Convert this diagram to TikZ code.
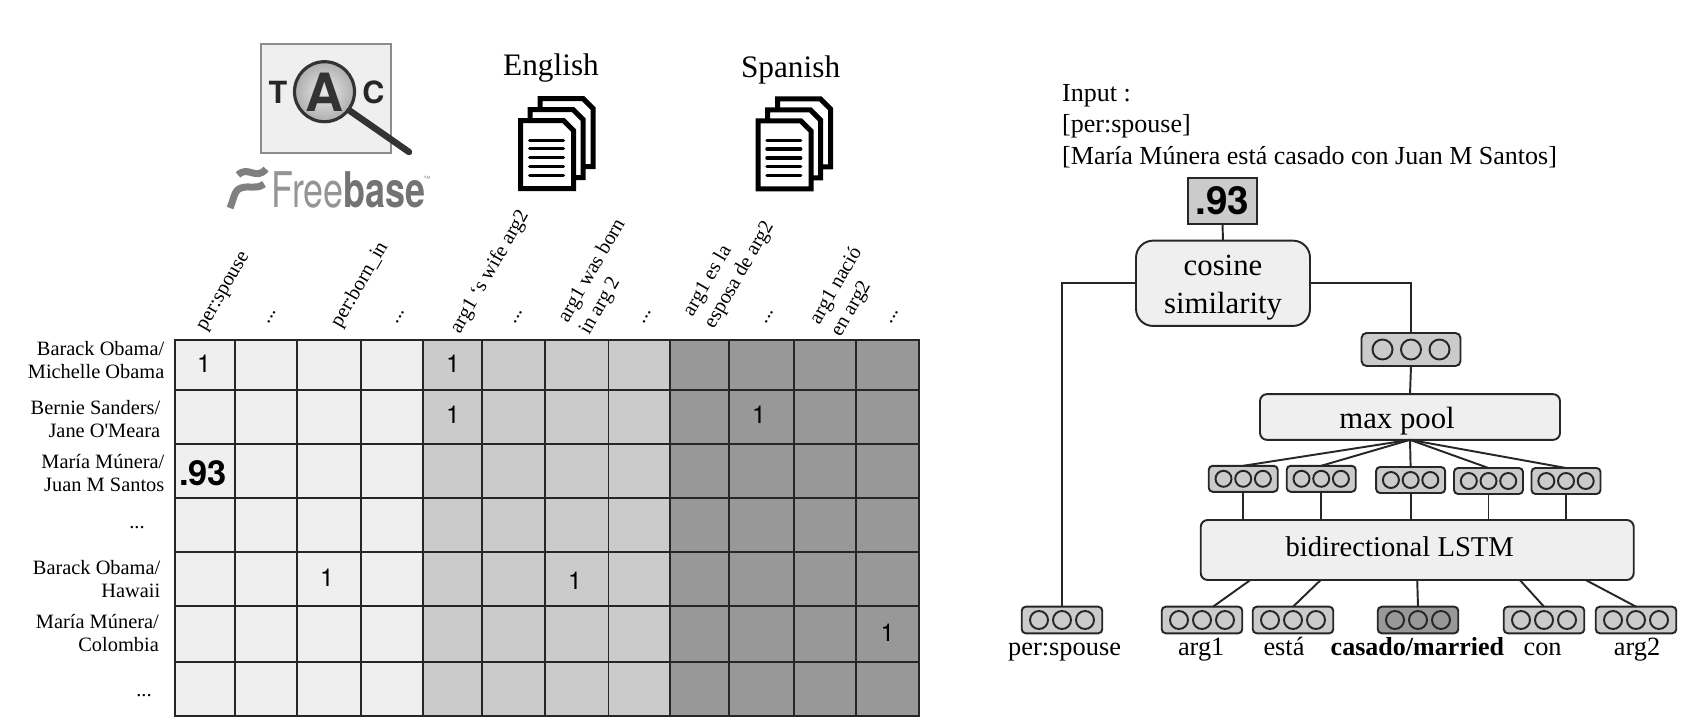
\documentclass[tikz,border=0pt]{standalone}
\usepackage{fontspec}
\setmainfont{Liberation Serif}
\newfontfamily\plainserif{Liberation Serif}
\newfontfamily\arialfont{TeX Gyre Heros}
\definecolor{celllight}{HTML}{EFEFEF}
\definecolor{cellmid}{HTML}{CBCBCB}
\definecolor{celldark}{HTML}{989898}
\newcommand{\fontat}[2]{\fontsize{#1}{#2}\selectfont}
\tikzset{
    cell/.style={draw=black!85, line width=0.5pt},
    rowlabel/.style={font=\fontat{5.8}{6.8}, align=right, anchor=east, inner sep=0pt},
    collabel/.style={font=\fontat{5.8}{7}, align=left, rotate=60, inner sep=0pt},
    cellnum/.style={font=\arialfont\fontat{7}{7}, inner sep=0pt},
    bignum/.style={font=\arialfont\bfseries\fontat{9.8}{10}, inner sep=0pt},
    block/.style={draw=black!85, fill=celllight, line width=0.55pt, rounded corners=0.07cm, inner sep=0pt, outer sep=0pt},
    vecbox/.style={draw=black!85, fill=cellmid, line width=0.55pt, rounded corners=0.04cm, inner sep=0pt, outer sep=0pt},
    veclabel/.style={font=\fontat{7.5}{8}, inner sep=0pt, anchor=base},
    wire/.style={line width=0.55pt, black!85},
    docstack/.pic={
        \foreach \dx/\dy in {0.195/0.22, 0.095/0.11, 0/0}
            \draw[line width=0.05cm, fill=white, miter limit=2] (\dx,\dy) -- ++(0.43,0) -- ++(0.10,-0.10) -- ++(0,-0.58) -- ++(-0.53,0) -- cycle;
        \foreach \ly in {-0.196, -0.28, -0.37, -0.456, -0.546}
            \draw[line width=0.035cm, line cap=round] (0.09,\ly) -- (0.427,\ly);
    }
}

\begin{document}
\begin{tikzpicture}
    \useasboundingbox (0,0) rectangle (16.89,7.27);

    % Matrix cells
    \foreach \xa/\xb/\shade in {1.75/2.35/celllight, 2.35/2.97/celllight, 2.97/3.61/celllight, 3.61/4.23/celllight,
        4.23/4.82/cellmid, 4.82/5.45/cellmid, 5.45/6.085/cellmid, 6.085/6.70/cellmid,
        6.70/7.29/celldark, 7.29/7.94/celldark, 7.94/8.56/celldark, 8.56/9.19/celldark}
        \foreach \ya/\yb in {3.87/3.37, 3.37/2.83, 2.83/2.29, 2.29/1.75, 1.75/1.21, 1.21/0.65, 0.65/0.11}
            \draw[cell, fill=\shade] (\xa,\ya) rectangle (\xb,\yb);

    % Matrix entries
    \foreach \nm/\cx/\cy in {a/2.04/3.63, b/4.53/3.63, c/4.53/3.12, d/7.59/3.12, e/3.27/1.49, f/5.75/1.46, g/8.875/0.94}
        \node[cellnum] (one\nm) at (\cx,\cy) {1};
    \node[bignum] (scoreleft) at (2.03,2.54) {.93};

    % Row labels
    \node[rowlabel] (rowa) at (1.65,3.67) {Barack Obama/\\Michelle Obama};
    \node[rowlabel] (rowb) at (1.61,3.08) {Bernie Sanders/\\Jane O{\plainserif '}Meara};
    \node[rowlabel] (rowc) at (1.65,2.54) {María Múnera/\\Juan M Santos};
    \node[rowlabel, anchor=center] (rowd) at (1.37,1.99) {...};
    \node[rowlabel] (rowe) at (1.61,1.48) {Barack Obama/\\Hawaii};
    \node[rowlabel] (rowf) at (1.595,0.94) {María Múnera/\\Colombia};
    \node[rowlabel, anchor=center] (rowg) at (1.44,0.315) {...};

    % Column labels
    \node[collabel] (cola) at (2.25,4.35) {per:spouse};
    \node[collabel] (colb) at (3.60,4.42) {per:born\_in};
    \node[collabel] (colc) at (4.90,4.55) {arg1 ‘s wife arg2};
    \node[collabel] (cold) at (6.03,4.50) {arg1 was born\\in arg 2};
    \node[collabel] (cole) at (7.29,4.58) {arg1 es la\\esposa de arg2};
    \node[collabel] (colf) at (8.47,4.35) {arg1 nació\\en arg2};
    \foreach \nm/\cx in {a/2.715, b/4.00, c/5.18, d/6.467, e/7.69, f/8.94}
        \node[collabel] (dots\nm) at (\cx,4.10) {...};

    % TAC logo
    \node[draw=black!45, fill=celllight, line width=0.5pt, minimum width=1.30cm, minimum height=1.09cm, inner sep=0pt] (tacbox) at (3.26,6.285) {};
    \node[circle, draw=black!80, inner color=black!8, outer color=black!32, line width=0.9pt, minimum size=0.60cm, inner sep=0pt] (lens) at (3.245,6.353) {};
    \draw[line width=0.065cm, black!80, line cap=round] (lens.-37) -- (4.09,5.75);
    \node[font=\arialfont\bfseries\fontat{8.7}{9}, black!85, inner sep=0pt] (tact) at (2.78,6.35) {T};
    \node[font=\arialfont\bfseries\fontat{15}{15}, black!80, inner sep=0pt] (taca) at (3.245,6.35) {A};
    \node[font=\arialfont\bfseries\fontat{8.7}{9}, black!85, inner sep=0pt] (tacc) at (3.735,6.35) {C};

    % Freebase logo
    \draw[line width=0.07cm, black!50] (2.38,5.52) .. controls (2.48,5.62) and (2.56,5.46) .. (2.66,5.58);
    \draw[line width=0.07cm, black!50, line join=round] (2.30,5.19) .. controls (2.34,5.28) and (2.34,5.37) .. (2.41,5.39) .. controls (2.50,5.42) and (2.56,5.37) .. (2.64,5.43);
    \node[font=\arialfont\fontat{14}{14}, black!42, xscale=0.73, anchor=west, inner sep=0pt] (freebase) at (2.71,5.375) {Free{\color{black!55}\bfseries base}};
    \node[font=\arialfont\fontat{2}{2}, black!50, inner sep=0pt] (freetm) at (4.27,5.48) {™};

    % Document stacks
    \node[font=\fontat{8.9}{10}, inner sep=0pt] (english) at (5.51,6.585) {English};
    \node[font=\fontat{8.9}{10}, inner sep=0pt] (spanish) at (7.906,6.57) {Spanish};
    \pic at (5.207,6.063) {docstack};
    \pic at (7.58,6.06) {docstack};

    % Input text
    \node[font=\fontat{7.4}{8.96}, align=left, anchor=west, inner sep=0pt] (input) at (10.615,6.01) {Input :\\ {}[per:spouse]\\ {}[María Múnera está casado con Juan M Santos]};

    % Network
    \node[draw=black!85, fill=cellmid, line width=0.6pt, minimum width=0.69cm, minimum height=0.46cm, inner sep=0pt, outer sep=0pt, font=\arialfont\bfseries\fontat{11}{11}] (score) at (12.225,5.26) {.93};
    \node[block, rounded corners=0.17cm, minimum width=1.74cm, minimum height=0.853cm, font=\fontat{8.75}{10.8}, align=center] (cosine) at (12.23,4.437) {\rule{0pt}{8.5pt}cosine\\similarity};
    \node[block, minimum width=3.0cm, minimum height=0.457cm, font=\fontat{8.75}{10}] (maxpool) at (14.10,3.10) {\raisebox{-0.04cm}[6pt][2pt]{max pool}\rule{0.26cm}{0pt}};
    \node[block, minimum width=4.33cm, minimum height=0.60cm, font=\fontat{8.15}{10}] (lstm) at (14.172,1.77) {\raisebox{0.01cm}[6pt][2pt]{bidirectional LSTM}\rule{0.35cm}{0pt}};

    % Vectors
    \node[vecbox, rounded corners=0.05cm, minimum width=0.99cm, minimum height=0.33cm] (vtop) at (14.11,3.775) {};
    \foreach \k in {-1,0,1}
        \draw[wire] ([xshift=\k*0.285cm]vtop.center) circle (0.10);
    \foreach \nm/\cx/\cy in {va/12.432/2.482, vb/13.212/2.482, vc/14.106/2.47, vd/14.885/2.46, ve/15.66/2.46} {
        \node[vecbox, minimum width=0.69cm, minimum height=0.26cm] (\nm) at (\cx,\cy) {};
        \foreach \k in {-1,0,1}
            \draw[wire] ([xshift=\k*0.197cm]\nm.center) circle (0.08);
    }
    \foreach \nm/\cx/\shade in {vspouse/10.62/cellmid, varga/12.02/cellmid, vesta/12.93/cellmid, vcasado/14.18/celldark, vcon/15.44/cellmid, vargb/16.36/cellmid} {
        \node[vecbox, fill=\shade, minimum width=0.805cm, minimum height=0.266cm] (\nm) at (\cx,1.07) {};
        \foreach \k in {-1,0,1}
            \draw[wire] ([xshift=\k*0.23cm]\nm.center) circle (0.09);
    }

    % Word labels
    \node[veclabel] (wspouse) at (10.646,0.72) {per:spouse};
    \node[veclabel] (warga) at (12.012,0.72) {arg1};
    \node[veclabel] (westa) at (12.84,0.72) {está};
    \node[veclabel, font=\bfseries\fontat{7.4}{8}] (wcasado) at (14.174,0.72) {casado/married};
    \node[veclabel] (wcon) at (15.426,0.72) {con};
    \node[veclabel] (wargb) at (16.37,0.72) {arg2};

    % Connectors
    \draw[wire] (score.south) -- (cosine.north);
    \draw[wire] (cosine.west) -| (vspouse.north);
    \draw[wire] (cosine.east) -| (vtop.north);
    \draw[wire] (vtop.south) -- (maxpool.north);
    \foreach \nm in {va,vb,vc,vd,ve} {
        \draw[wire] (maxpool.south) -- (\nm.north);
        \draw[wire] (\nm.south) -- (\nm.south |- lstm.north);
    }
    \draw[wire] ([xshift=-1.668cm]lstm.south) -- ([xshift=0.11cm]varga.north);
    \draw[wire] ([xshift=-0.965cm]lstm.south) -- (vesta.north);
    \draw[wire] (lstm.south) -- (vcasado.north);
    \draw[wire] ([xshift=1.026cm]lstm.south) -- (vcon.north);
    \draw[wire] ([xshift=1.685cm]lstm.south) -- (vargb.north);
\end{tikzpicture}
\end{document}
